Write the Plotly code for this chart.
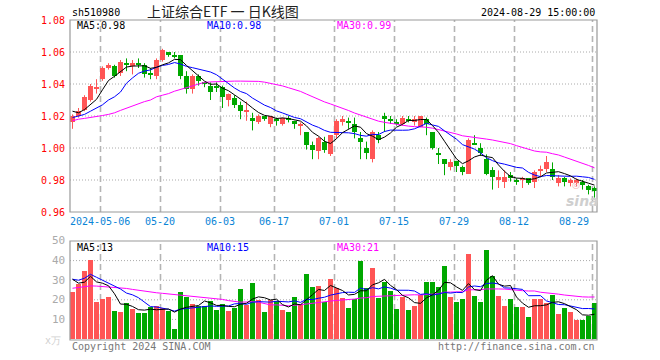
import plotly.graph_objects as go
import pandas as pd

W, H = 660, 360
OFF = 0  # body margin removed by post_script below

dates = [
    "2024-04-24", "2024-04-25", "2024-04-26", "2024-04-29", "2024-04-30",
    "2024-05-06", "2024-05-07", "2024-05-08", "2024-05-09", "2024-05-10",
    "2024-05-13", "2024-05-14", "2024-05-15", "2024-05-16", "2024-05-17",
    "2024-05-20", "2024-05-21", "2024-05-22", "2024-05-23", "2024-05-24",
    "2024-05-27", "2024-05-28", "2024-05-29", "2024-05-30", "2024-05-31",
    "2024-06-03", "2024-06-04", "2024-06-05", "2024-06-06", "2024-06-07",
    "2024-06-11", "2024-06-12", "2024-06-13", "2024-06-14",
    "2024-06-17", "2024-06-18", "2024-06-19", "2024-06-20", "2024-06-21",
    "2024-06-24", "2024-06-25", "2024-06-26", "2024-06-27", "2024-06-28",
    "2024-07-01", "2024-07-02", "2024-07-03", "2024-07-04", "2024-07-05",
    "2024-07-08", "2024-07-09", "2024-07-10", "2024-07-11", "2024-07-12",
    "2024-07-15", "2024-07-16", "2024-07-17", "2024-07-18", "2024-07-19",
    "2024-07-22", "2024-07-23", "2024-07-24", "2024-07-25", "2024-07-26",
    "2024-07-29", "2024-07-30", "2024-07-31", "2024-08-01", "2024-08-02",
    "2024-08-05", "2024-08-06", "2024-08-07", "2024-08-08", "2024-08-09",
    "2024-08-12", "2024-08-13", "2024-08-14", "2024-08-15", "2024-08-16",
    "2024-08-19", "2024-08-20", "2024-08-21", "2024-08-22", "2024-08-23",
    "2024-08-26", "2024-08-27", "2024-08-28", "2024-08-29",
]

opens = [
    1.016, 1.020, 1.024, 1.030, 1.037, 1.043, 1.050, 1.051, 1.047, 1.053,
    1.051, 1.053, 1.052, 1.047, 1.045, 1.055, 1.060, 1.058, 1.058, 1.045,
    1.037, 1.045, 1.041, 1.039, 1.039, 1.038, 1.030, 1.031, 1.027, 1.023,
    1.019, 1.016, 1.020, 1.015, 1.018, 1.015, 1.019, 1.017, 1.014, 1.010,
    1.002, 0.998, 1.004, 0.996, 1.008, 1.016, 1.017, 1.015, 1.006, 1.000,
    0.993, 1.008, 1.020, 1.018, 1.016, 1.015, 1.018, 1.016, 1.013, 1.018,
    1.010, 0.997, 0.993, 0.988, 0.992, 0.988, 0.984, 1.003, 1.000, 0.993,
    0.986, 0.980, 0.979, 0.983, 0.980, 0.980, 0.981, 0.979, 0.986, 0.987,
    0.987, 0.978, 0.981, 0.978, 0.978, 0.979, 0.976, 0.975,
]
highs = [
    1.021, 1.025, 1.033, 1.040, 1.043, 1.051, 1.053, 1.052, 1.055, 1.056,
    1.055, 1.056, 1.053, 1.050, 1.056, 1.062, 1.060, 1.060, 1.058, 1.048,
    1.046, 1.046, 1.041, 1.041, 1.041, 1.039, 1.034, 1.033, 1.029, 1.029,
    1.022, 1.021, 1.020, 1.020, 1.019, 1.019, 1.020, 1.017, 1.016, 1.010,
    1.004, 1.007, 1.007, 1.008, 1.018, 1.020, 1.019, 1.019, 1.010, 1.004,
    1.011, 1.010, 1.022, 1.020, 1.018, 1.020, 1.020, 1.020, 1.020, 1.019,
    1.010, 1.000, 0.993, 0.993, 0.992, 0.989, 1.006, 1.008, 1.003, 0.996,
    0.988, 0.986, 0.986, 0.985, 0.981, 0.982, 0.981, 0.986, 0.989, 0.995,
    0.991, 0.983, 0.982, 0.981, 0.981, 0.980, 0.977, 0.976,
]
lows = [
    1.012, 1.019, 1.023, 1.029, 1.034, 1.042, 1.049, 1.044, 1.045, 1.048,
    1.046, 1.050, 1.044, 1.043, 1.043, 1.054, 1.057, 1.056, 1.043, 1.034,
    1.034, 1.039, 1.038, 1.030, 1.035, 1.025, 1.026, 1.025, 1.018, 1.017,
    1.011, 1.015, 1.017, 1.013, 1.014, 1.014, 1.016, 1.012, 1.008, 0.999,
    0.993, 0.993, 0.997, 0.995, 1.006, 1.014, 1.012, 1.006, 0.993, 0.993,
    0.991, 1.003, 1.010, 1.015, 1.014, 1.014, 1.016, 1.014, 1.013, 1.008,
    0.999, 0.990, 0.983, 0.986, 0.985, 0.983, 0.984, 1.002, 0.995, 0.983,
    0.974, 0.975, 0.975, 0.979, 0.977, 0.975, 0.977, 0.975, 0.982, 0.985,
    0.980, 0.976, 0.976, 0.976, 0.976, 0.974, 0.971, 0.969,
]
closes = [
    1.020, 1.023, 1.032, 1.039, 1.038, 1.050, 1.052, 1.045, 1.054, 1.052,
    1.053, 1.052, 1.046, 1.046, 1.055, 1.061, 1.058, 1.057, 1.045, 1.037,
    1.045, 1.042, 1.040, 1.035, 1.038, 1.032, 1.034, 1.027, 1.023, 1.024,
    1.017, 1.020, 1.018, 1.020, 1.017, 1.019, 1.018, 1.015, 1.015, 1.002,
    0.999, 1.006, 0.999, 1.008, 1.017, 1.018, 1.016, 1.010, 1.004, 0.997,
    1.010, 1.005, 1.018, 1.017, 1.015, 1.019, 1.017, 1.018, 1.020, 1.015,
    1.000, 0.996, 0.990, 0.991, 0.989, 0.985, 1.005, 1.002, 0.997, 0.984,
    0.982, 0.982, 0.982, 0.981, 0.979, 0.981, 0.978, 0.985, 0.987, 0.991,
    0.982, 0.981, 0.979, 0.980, 0.980, 0.977, 0.974, 0.973,
]
volumes = [
    24.0, 27.9, 34.8, 40.1, 18.9, 20.6, 21.5, 14.3, 13.8, 18.4,
    15.1, 13.2, 13.2, 16.3, 16.8, 16.0, 14.3, 5.2, 24.0, 21.5,
    17.9, 16.8, 16.8, 19.4, 14.8, 17.9, 14.3, 16.0, 25.6, 17.4,
    28.6, 19.9, 13.8, 19.9, 19.4, 14.8, 13.8, 21.5, 17.9, 33.3,
    26.6, 27.1, 18.9, 30.7, 26.1, 20.9, 15.8, 20.4, 39.9, 25.9,
    36.3, 20.9, 29.1, 24.5, 15.3, 21.5, 14.8, 16.8, 22.6, 29.3,
    29.3, 26.3, 37.0, 21.5, 18.9, 20.4, 43.5, 21.7, 18.9, 45.5,
    32.0, 21.7, 16.8, 20.4, 16.3, 16.3, 11.2, 20.6, 20.6, 18.4,
    22.7, 12.7, 15.8, 13.8, 9.7, 9.7, 11.7, 18.4,
]

# Moving-average values before the window fills
price_ma5_head = [1.023, 1.022, 1.024, 1.027]
price_ma10_head = [1.019, 1.020, 1.021, 1.023, 1.025, 1.027, 1.030, 1.032, 1.035]
price_ma30_head = [
    1.017, 1.018, 1.0185, 1.019, 1.0197, 1.0203, 1.021, 1.022, 1.0235, 1.025,
    1.0265, 1.028, 1.029, 1.030, 1.032, 1.033, 1.034, 1.0355, 1.0365, 1.0375,
    1.0388, 1.040, 1.041, 1.0413, 1.0415, 1.0415, 1.0417, 1.0418, 1.0418,
]
vol_ma5_head = [30.5, 28.5, 29.0, 32.0]
vol_ma10_head = [30.5, 30.0, 31.0, 33.0, 31.5, 30.0, 28.5, 27.0, 25.5]
vol_ma30_head = [
    25.9, 26.3, 26.8, 27.1, 27.0, 26.8, 26.6, 26.4, 26.2, 25.8,
    25.3, 24.8, 24.3, 23.8, 23.6, 23.3, 23.0, 22.8, 22.5, 22.2,
    21.9, 21.5, 21.2, 20.9, 20.6, 20.2, 19.6, 19.1, 18.8,
]

tick_dates = ["2024-05-06", "2024-05-20", "2024-06-03", "2024-06-17", "2024-07-01",
              "2024-07-15", "2024-07-29", "2024-08-12", "2024-08-29"]
tick_texts = ["2024-05-06", "05-20", "06-03", "06-17", "07-01",
              "07-15", "07-29", "08-12", "08-29"]
price_ticks = [1.08, 1.06, 1.04, 1.02, 1.00, 0.98, 0.96]
vol_ticks = [50, 40, 30, 20, 10]


def moving_average(values, n, head):
    s = pd.Series(values).rolling(n).mean().tolist()
    s[: n - 1] = head
    return s


n = len(dates)
xs = list(range(n))
p_ma5 = moving_average(closes, 5, price_ma5_head)
p_ma10 = moving_average(closes, 10, price_ma10_head)
p_ma30 = moving_average(closes, 30, price_ma30_head)
v_ma5 = moving_average(volumes, 5, vol_ma5_head)
v_ma10 = moving_average(volumes, 10, vol_ma10_head)
v_ma30 = moving_average(volumes, 30, vol_ma30_head)

RED = "#ff5555"
GREEN = "#00a800"
up = [c >= o for o, c in zip(opens, closes)]
colors = [RED if u else GREEN for u in up]

# pixel geometry (page pixels)
PX_L, PX_R = 70, 597
P_TOP, P_BOT = 20, 212
V_TOP, V_BOT = 241, 340
BW = 5 / 6
XR = [-5 / 12, n - 1 + 5 / 12]


def xp(px):
    return (px - OFF) / W


def yp(py):
    return 1 - (py - OFF) / H


fig = go.Figure()

# candle bodies
min_h = 0.0007
fig.add_trace(go.Bar(
    x=xs,
    base=[min(o, c) for o, c in zip(opens, closes)],
    y=[max(abs(c - o), min_h) for o, c in zip(opens, closes)],
    width=BW, marker=dict(color=colors, line=dict(width=0)),
    xaxis="x", yaxis="y", hoverinfo="skip", showlegend=False,
))

# wicks
for col, flag in ((RED, True), (GREEN, False)):
    wx, wy = [], []
    for i in range(n):
        if up[i] == flag:
            wx += [i, i, None]
            wy += [lows[i], highs[i], None]
    fig.add_trace(go.Scatter(x=wx, y=wy, mode="lines", line=dict(color=col, width=1),
                             xaxis="x", yaxis="y", hoverinfo="skip", showlegend=False))

# price MAs
for vals, col in ((p_ma30, "#ff00ff"), (p_ma10, "#0000ff"), (p_ma5, "#000000")):
    fig.add_trace(go.Scatter(x=xs, y=vals, mode="lines", line=dict(color=col, width=1),
                             xaxis="x", yaxis="y", hoverinfo="skip", showlegend=False))

# volume bars
fig.add_trace(go.Bar(
    x=xs, y=volumes, width=BW, marker=dict(color=colors, line=dict(width=0)),
    xaxis="x2", yaxis="y2", hoverinfo="skip", showlegend=False,
))
for vals, col in ((v_ma30, "#ff00ff"), (v_ma10, "#0000ff"), (v_ma5, "#000000")):
    fig.add_trace(go.Scatter(x=xs, y=vals, mode="lines", line=dict(color=col, width=1),
                             xaxis="x2", yaxis="y2", hoverinfo="skip", showlegend=False))

shapes = []
GRID = "#aaaaaa"
# horizontal dotted grid lines
for v in price_ticks[1:-1]:
    shapes.append(dict(type="line", xref="paper", yref="y", x0=xp(PX_L), x1=xp(PX_R), y0=v, y1=v,
                       line=dict(color=GRID, width=1, dash="1px,2px"), layer="below"))
for v in vol_ticks[1:]:
    shapes.append(dict(type="line", xref="paper", yref="y2", x0=xp(PX_L), x1=xp(PX_R), y0=v, y1=v,
                       line=dict(color=GRID, width=1, dash="1px,2px"), layer="below"))
# vertical dashed grid lines
for d in tick_dates:
    i = dates.index(d)
    gx = i - 5 / 12 + 1 / 12
    for top, bot in ((P_TOP, P_BOT), (V_TOP, V_BOT)):
        shapes.append(dict(type="line", xref="x", yref="paper", x0=gx, x1=gx, y0=yp(bot), y1=yp(top),
                           line=dict(color="#b4b4b4", width=1.6, dash="6px,4px"), layer="below"))
# frames
for top, bot in ((P_TOP, P_BOT), (V_TOP, V_BOT)):
    shapes.append(dict(type="rect", xref="paper", yref="paper", x0=xp(PX_L), x1=xp(PX_R),
                       y0=yp(bot), y1=yp(top), line=dict(color="#999999", width=1.2),
                       fillcolor="rgba(0,0,0,0)", layer="above"))

MONO = "DejaVu Sans Mono"
ann = []


def text(s, x, y, color, size=10, anchor="left", family=MONO, yanchor="middle"):
    ann.append(dict(text=s, x=xp(x), y=yp(y), xref="paper", yref="paper", showarrow=False,
                    xanchor=anchor, yanchor=yanchor, font=dict(family=family, size=size, color=color)))


# price axis labels
for v in price_ticks:
    py = P_TOP + (1.08 - v) / 0.12 * (P_BOT - P_TOP)
    text(f"{v:.2f}", 67, py, "#ff0000", anchor="right")
# volume axis labels
for v in vol_ticks:
    py = V_BOT - 1 - v / 50 * (V_BOT - 1 - V_TOP)
    text(str(v), 67, py, "#aaaaaa", size=11, anchor="right")
text("x万", 63, 340, "#d0d0d0", size=10, anchor="right")

# date labels
for d, t in zip(tick_dates, tick_texts):
    i = dates.index(d)
    gx = PX_L + 6 * i
    if d == tick_dates[-1]:
        text(t, 591, 221, "#0a84d6", anchor="right")
    else:
        text(t, gx, 221, "#0a84d6", anchor="center")

# headers
text("sh510980", 70, 13, "#000000")
text("上证综合ETF&#160;一&#160;日K线图", 223, 11, "#222222", size=14, anchor="center",
     family="Noto Sans CJK SC")
text("2024-08-29 15:00:00", 597, 13, "#000000", anchor="right")

# MA legends
text(f"MA5:{p_ma5[-1]:.2f}", 75, 26, "#000000")
text(f"MA10:{p_ma10[-1]:.2f}", 205, 26, "#0000ff")
text(f"MA30:{p_ma30[-1]:.2f}", 335, 26, "#ff00ff")
text(f"MA5:{v_ma5[-1]:.0f}", 75, 247, "#000000")
text(f"MA10:{v_ma10[-1]:.0f}", 205, 247, "#0000ff")
text(f"MA30:{v_ma30[-1]:.0f}", 335, 247, "#ff00ff")

# footer
text("Copyright 2024 SINA.COM", 70, 346, "#777777")
text("http://finance.sina.com.cn", 597, 346, "#777777", anchor="right")

# watermark
text("<b><i>sina</i></b>", 582, 201, "#cfcfcf", size=14, anchor="center", family="DejaVu Sans")
text("◎", 576, 185, "#f0b0b0", size=9, anchor="center", family="DejaVu Sans")

axis_common = dict(visible=False, showgrid=False, zeroline=False, fixedrange=True)
fig.update_layout(
    width=W, height=H,
    margin=dict(l=0, r=0, t=0, b=0),
    paper_bgcolor="white", plot_bgcolor="white",
    bargap=0, showlegend=False,
    xaxis=dict(domain=[xp(PX_L), xp(PX_R)], range=XR, anchor="y", **axis_common),
    yaxis=dict(domain=[yp(P_BOT), yp(P_TOP)], range=[0.96, 1.08], anchor="x", **axis_common),
    xaxis2=dict(domain=[xp(PX_L), xp(PX_R)], range=XR, anchor="y2", **axis_common),
    yaxis2=dict(domain=[yp(V_BOT), yp(V_TOP)], range=[-0.5, 50.0], anchor="x2", **axis_common),
    shapes=shapes, annotations=ann,
)

fig.write_html("out.html", config={"displayModeBar": False},
               post_script="document.body.style.margin='0';")
